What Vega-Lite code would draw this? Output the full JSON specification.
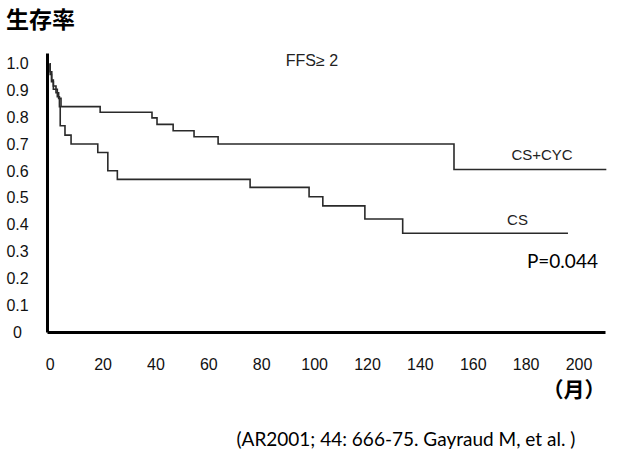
{
  "$schema": "https://vega.github.io/schema/vega-lite/v6.json",
  "width": 558,
  "height": 279,
  "autosize": "none",
  "padding": {"left": 47, "top": 53, "right": 12, "bottom": 121},
  "background": "white",
  "title": {
    "text": "生存率",
    "anchor": "start",
    "frame": "bounds",
    "font": "Noto Sans CJK JP",
    "fontSize": 23,
    "fontWeight": "bold",
    "color": "black",
    "offset": 20
  },
  "config": {
    "view": {"stroke": null}
  },
  "encoding": {
    "x": {
      "field": "t",
      "type": "quantitative",
      "scale": {"domain": [-1, 210], "nice": false, "zero": false},
      "axis": {
        "values": [0, 20, 40, 60, 80, 100, 120, 140, 160, 180, 200],
        "domainColor": "black",
        "domainWidth": 3,
        "ticks": false,
        "tickSize": 0,
        "grid": false,
        "labelFont": "Liberation Sans",
        "labelFontSize": 16,
        "labelColor": "#111",
        "labelOverlap": false,
        "labelPadding": 24,
        "title": "（月）",
        "titleAnchor": "end",
        "titleFont": "Noto Sans CJK JP",
        "titleFontSize": 21,
        "titleFontWeight": "bold",
        "titleColor": "black",
        "titlePadding": 7
      }
    },
    "y": {
      "field": "s",
      "type": "quantitative",
      "scale": {"domain": [0, 1.04], "nice": false},
      "axis": {
        "values": [0, 0.1, 0.2, 0.3, 0.4, 0.5, 0.6, 0.7, 0.8, 0.9, 1.0],
        "labelExpr": "datum.value == 0 ? '0' : format(datum.value, '.1f')",
        "domainColor": "black",
        "domainWidth": 3,
        "ticks": false,
        "tickSize": 0,
        "grid": false,
        "labelFont": "Liberation Sans",
        "labelFontSize": 16,
        "labelColor": "#111",
        "labelOverlap": false,
        "labelAlign": "center",
        "labelPadding": 30,
        "title": null
      }
    }
  },
  "layer": [
    {
      "data": {
        "values": [
          {"group": "CS+CYC", "t": 0, "s": 1.0},
          {"group": "CS+CYC", "t": 0.15, "s": 0.97},
          {"group": "CS+CYC", "t": 0.8, "s": 0.939},
          {"group": "CS+CYC", "t": 1.4, "s": 0.917},
          {"group": "CS+CYC", "t": 2.4, "s": 0.892},
          {"group": "CS+CYC", "t": 3.4, "s": 0.871},
          {"group": "CS+CYC", "t": 4.3, "s": 0.84},
          {"group": "CS+CYC", "t": 19.1, "s": 0.819},
          {"group": "CS+CYC", "t": 38.7, "s": 0.798},
          {"group": "CS+CYC", "t": 40.6, "s": 0.774},
          {"group": "CS+CYC", "t": 46.7, "s": 0.75},
          {"group": "CS+CYC", "t": 54.6, "s": 0.728},
          {"group": "CS+CYC", "t": 63.7, "s": 0.701},
          {"group": "CS+CYC", "t": 152.9, "s": 0.606},
          {"group": "CS+CYC", "t": 210.5, "s": 0.606},
          {"group": "CS", "t": 0, "s": 1.0},
          {"group": "CS", "t": 0.2, "s": 0.96},
          {"group": "CS", "t": 0.7, "s": 0.933},
          {"group": "CS", "t": 1.4, "s": 0.905},
          {"group": "CS", "t": 2.9, "s": 0.877},
          {"group": "CS", "t": 3.7, "s": 0.84},
          {"group": "CS", "t": 4.0, "s": 0.769},
          {"group": "CS", "t": 5.8, "s": 0.734},
          {"group": "CS", "t": 8.1, "s": 0.701},
          {"group": "CS", "t": 18.2, "s": 0.669},
          {"group": "CS", "t": 22.0, "s": 0.601},
          {"group": "CS", "t": 25.6, "s": 0.569},
          {"group": "CS", "t": 75.8, "s": 0.539},
          {"group": "CS", "t": 98.1, "s": 0.504},
          {"group": "CS", "t": 103.3, "s": 0.47},
          {"group": "CS", "t": 119.2, "s": 0.421},
          {"group": "CS", "t": 133.5, "s": 0.368},
          {"group": "CS", "t": 196.0, "s": 0.368}
        ]
      },
      "mark": {"type": "line", "interpolate": "step-after", "strokeWidth": 1.6, "color": "#2a2a2a"},
      "encoding": {
        "detail": {"field": "group"}
      }
    },
    {
      "data": {"values": [{"t": 99.2, "s": 1.01, "label": "FFS≥ 2"}]},
      "mark": {"type": "text", "font": "Liberation Sans", "fontSize": 16, "color": "#222", "align": "center", "baseline": "middle"},
      "encoding": {"text": {"field": "label"}}
    },
    {
      "data": {
        "values": [
          {"t": 186.2, "s": 0.66, "label": "CS+CYC"},
          {"t": 176.9, "s": 0.417, "label": "CS"}
        ]
      },
      "mark": {"type": "text", "font": "Liberation Sans", "fontSize": 15, "color": "#222", "align": "center", "baseline": "middle"},
      "encoding": {"text": {"field": "label"}}
    },
    {
      "data": {"values": [{"t": 193.9, "s": 0.262, "label": "P=0.044"}]},
      "mark": {"type": "text", "font": "Lato", "fontSize": 19, "color": "black", "align": "center", "baseline": "middle"},
      "encoding": {"text": {"field": "label"}}
    },
    {
      "data": {"values": [{"t": 134.7, "s": -0.4025, "label": "(AR2001; 44: 666-75. Gayraud M, et al. )"}]},
      "mark": {"type": "text", "font": "Lato", "fontSize": 19, "color": "black", "align": "center", "baseline": "middle"},
      "encoding": {"text": {"field": "label"}}
    }
  ]
}
